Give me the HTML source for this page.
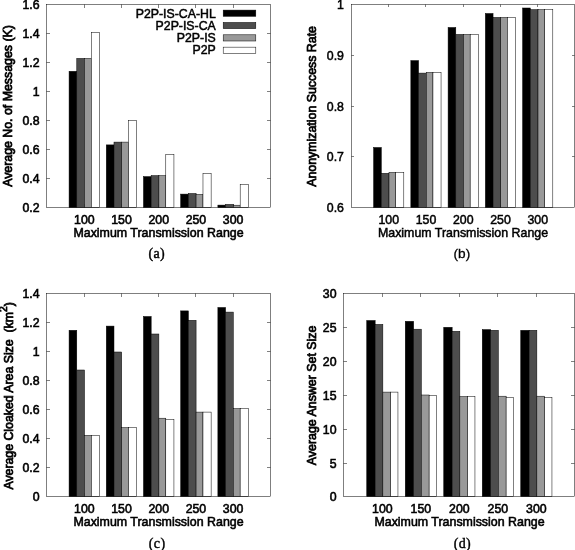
<!DOCTYPE html>
<html><head><meta charset="utf-8"><title>Figure</title>
<style>
html,body{margin:0;padding:0;background:#fff;}
svg{display:block;}
text{font-family:"Liberation Sans",sans-serif;fill:#000;stroke:#000;stroke-width:0.5px;}
</style></head><body>
<svg width="575" height="550" viewBox="0 0 575 550">
<rect width="575" height="550" fill="#fff"/>
<path d="M84.50 207.50v-3.5" stroke="#000" stroke-width="0.5" fill="none"/>
<path d="M121.50 207.50v-3.5" stroke="#000" stroke-width="0.5" fill="none"/>
<path d="M158.50 207.50v-3.5" stroke="#000" stroke-width="0.5" fill="none"/>
<path d="M195.50 207.50v-3.5" stroke="#000" stroke-width="0.5" fill="none"/>
<path d="M233.50 207.50v-3.5" stroke="#000" stroke-width="0.5" fill="none"/>
<rect x="69.08" y="71.30" width="7.70" height="136.20" fill="#000000" stroke="#000" stroke-width="0.5"/>
<rect x="76.78" y="58.40" width="7.70" height="149.10" fill="#4d4d4d" stroke="#000" stroke-width="0.5"/>
<rect x="84.48" y="58.40" width="6.90" height="149.10" fill="#999999" stroke="#000" stroke-width="0.5"/>
<rect x="91.38" y="32.30" width="8.15" height="175.20" fill="#ffffff" stroke="#000" stroke-width="0.5"/>
<rect x="106.28" y="144.90" width="7.70" height="62.60" fill="#000000" stroke="#000" stroke-width="0.5"/>
<rect x="113.98" y="142.10" width="7.70" height="65.40" fill="#4d4d4d" stroke="#000" stroke-width="0.5"/>
<rect x="121.68" y="142.10" width="6.90" height="65.40" fill="#999999" stroke="#000" stroke-width="0.5"/>
<rect x="128.58" y="120.40" width="8.15" height="87.10" fill="#ffffff" stroke="#000" stroke-width="0.5"/>
<rect x="143.47" y="176.60" width="7.70" height="30.90" fill="#000000" stroke="#000" stroke-width="0.5"/>
<rect x="151.17" y="175.60" width="7.70" height="31.90" fill="#4d4d4d" stroke="#000" stroke-width="0.5"/>
<rect x="158.88" y="175.60" width="6.90" height="31.90" fill="#999999" stroke="#000" stroke-width="0.5"/>
<rect x="165.78" y="154.30" width="8.15" height="53.20" fill="#ffffff" stroke="#000" stroke-width="0.5"/>
<rect x="180.68" y="194.10" width="7.70" height="13.40" fill="#000000" stroke="#000" stroke-width="0.5"/>
<rect x="188.38" y="193.50" width="7.70" height="14.00" fill="#4d4d4d" stroke="#000" stroke-width="0.5"/>
<rect x="196.08" y="194.40" width="6.90" height="13.10" fill="#999999" stroke="#000" stroke-width="0.5"/>
<rect x="202.98" y="173.40" width="8.15" height="34.10" fill="#ffffff" stroke="#000" stroke-width="0.5"/>
<rect x="217.88" y="205.10" width="7.70" height="2.40" fill="#000000" stroke="#000" stroke-width="0.5"/>
<rect x="225.58" y="204.40" width="7.70" height="3.10" fill="#4d4d4d" stroke="#000" stroke-width="0.5"/>
<rect x="233.28" y="205.20" width="6.90" height="2.30" fill="#999999" stroke="#000" stroke-width="0.5"/>
<rect x="240.18" y="184.50" width="8.15" height="23.00" fill="#ffffff" stroke="#000" stroke-width="0.5"/>
<rect x="46.50" y="4.50" width="224.00" height="203.00" fill="none" stroke="#000" stroke-width="0.5"/>
<path d="M84.50 4.50v3.5" stroke="#000" stroke-width="0.5" fill="none"/>
<text transform="translate(84.30,224.40) scale(0.955,1)" text-anchor="middle" font-size="12.9" style="stroke-width:0.6px">100</text>
<path d="M121.50 4.50v3.5" stroke="#000" stroke-width="0.5" fill="none"/>
<text transform="translate(121.50,224.40) scale(0.955,1)" text-anchor="middle" font-size="12.9" style="stroke-width:0.6px">150</text>
<path d="M158.50 4.50v3.5" stroke="#000" stroke-width="0.5" fill="none"/>
<text transform="translate(158.70,224.40) scale(0.955,1)" text-anchor="middle" font-size="12.9" style="stroke-width:0.6px">200</text>
<path d="M195.50 4.50v3.5" stroke="#000" stroke-width="0.5" fill="none"/>
<text transform="translate(195.90,224.40) scale(0.955,1)" text-anchor="middle" font-size="12.9" style="stroke-width:0.6px">250</text>
<path d="M233.50 4.50v3.5" stroke="#000" stroke-width="0.5" fill="none"/>
<text transform="translate(233.10,224.40) scale(0.955,1)" text-anchor="middle" font-size="12.9" style="stroke-width:0.6px">300</text>
<text transform="translate(39.50,211.90) scale(0.955,1)" text-anchor="end" font-size="12.9" style="stroke-width:0.6px">0.2</text>
<path d="M46.50 178.50h3.5M270.50 178.50h-3.5" stroke="#000" stroke-width="0.5" fill="none"/>
<text transform="translate(39.50,182.90) scale(0.955,1)" text-anchor="end" font-size="12.9" style="stroke-width:0.6px">0.4</text>
<path d="M46.50 149.50h3.5M270.50 149.50h-3.5" stroke="#000" stroke-width="0.5" fill="none"/>
<text transform="translate(39.50,153.90) scale(0.955,1)" text-anchor="end" font-size="12.9" style="stroke-width:0.6px">0.6</text>
<path d="M46.50 120.50h3.5M270.50 120.50h-3.5" stroke="#000" stroke-width="0.5" fill="none"/>
<text transform="translate(39.50,124.90) scale(0.955,1)" text-anchor="end" font-size="12.9" style="stroke-width:0.6px">0.8</text>
<path d="M46.50 91.50h3.5M270.50 91.50h-3.5" stroke="#000" stroke-width="0.5" fill="none"/>
<text transform="translate(39.50,95.90) scale(0.955,1)" text-anchor="end" font-size="12.9" style="stroke-width:0.6px">1</text>
<path d="M46.50 62.50h3.5M270.50 62.50h-3.5" stroke="#000" stroke-width="0.5" fill="none"/>
<text transform="translate(39.50,66.90) scale(0.955,1)" text-anchor="end" font-size="12.9" style="stroke-width:0.6px">1.2</text>
<path d="M46.50 33.50h3.5M270.50 33.50h-3.5" stroke="#000" stroke-width="0.5" fill="none"/>
<text transform="translate(39.50,37.90) scale(0.955,1)" text-anchor="end" font-size="12.9" style="stroke-width:0.6px">1.4</text>
<text transform="translate(39.50,8.90) scale(0.955,1)" text-anchor="end" font-size="12.9" style="stroke-width:0.6px">1.6</text>
<text transform="translate(158.50,236.90) scale(0.9466,1)" text-anchor="middle" font-size="13.1" style="stroke-width:0.6px">Maximum Transmission Range</text>
<text transform="translate(11.90,106.00) scale(1.06,1) rotate(-90)" text-anchor="middle" font-size="12.35" style="stroke-width:0.75px">Average No. of Messages (K)</text>
<text x="156.8" y="258" text-anchor="middle" font-family="'Liberation Serif', serif" style="font-family:'Liberation Serif',serif;stroke-width:0.4px" font-size="14" letter-spacing="0.4">(a)</text>
<text transform="translate(215.80,17.55) scale(0.955,1)" text-anchor="end" font-size="12.9" >P2P-IS-CA-HL</text>
<rect x="223.2" y="10.10" width="32.6" height="6.2" fill="#000000" stroke="#000" stroke-width="0.5"/>
<text transform="translate(215.80,29.82) scale(0.955,1)" text-anchor="end" font-size="12.9" >P2P-IS-CA</text>
<rect x="223.2" y="22.45" width="32.6" height="6.2" fill="#4d4d4d" stroke="#000" stroke-width="0.5"/>
<text transform="translate(215.80,42.09) scale(0.955,1)" text-anchor="end" font-size="12.9" >P2P-IS</text>
<rect x="223.2" y="34.80" width="32.6" height="6.2" fill="#999999" stroke="#000" stroke-width="0.5"/>
<text transform="translate(215.80,54.36) scale(0.955,1)" text-anchor="end" font-size="12.9" >P2P</text>
<rect x="223.2" y="47.15" width="32.6" height="6.2" fill="#ffffff" stroke="#000" stroke-width="0.5"/>
<path d="M388.50 207.50v-2.5" stroke="#000" stroke-width="0.5" fill="none"/>
<path d="M425.50 207.50v-2.5" stroke="#000" stroke-width="0.5" fill="none"/>
<path d="M463.50 207.50v-2.5" stroke="#000" stroke-width="0.5" fill="none"/>
<path d="M500.50 207.50v-2.5" stroke="#000" stroke-width="0.5" fill="none"/>
<path d="M537.50 207.50v-2.5" stroke="#000" stroke-width="0.5" fill="none"/>
<rect x="373.60" y="147.50" width="7.70" height="60.00" fill="#000000" stroke="#000" stroke-width="0.5"/>
<rect x="381.30" y="173.30" width="7.70" height="34.20" fill="#4d4d4d" stroke="#000" stroke-width="0.5"/>
<rect x="389.00" y="172.40" width="6.70" height="35.10" fill="#999999" stroke="#000" stroke-width="0.5"/>
<rect x="395.70" y="172.40" width="8.10" height="35.10" fill="#ffffff" stroke="#000" stroke-width="0.5"/>
<rect x="410.85" y="60.60" width="7.70" height="146.90" fill="#000000" stroke="#000" stroke-width="0.5"/>
<rect x="418.55" y="73.10" width="7.70" height="134.40" fill="#4d4d4d" stroke="#000" stroke-width="0.5"/>
<rect x="426.25" y="72.40" width="6.70" height="135.10" fill="#999999" stroke="#000" stroke-width="0.5"/>
<rect x="432.95" y="72.40" width="8.10" height="135.10" fill="#ffffff" stroke="#000" stroke-width="0.5"/>
<rect x="448.10" y="27.50" width="7.70" height="180.00" fill="#000000" stroke="#000" stroke-width="0.5"/>
<rect x="455.80" y="34.40" width="7.70" height="173.10" fill="#4d4d4d" stroke="#000" stroke-width="0.5"/>
<rect x="463.50" y="34.40" width="6.70" height="173.10" fill="#999999" stroke="#000" stroke-width="0.5"/>
<rect x="470.20" y="34.40" width="8.10" height="173.10" fill="#ffffff" stroke="#000" stroke-width="0.5"/>
<rect x="485.35" y="13.50" width="7.70" height="194.00" fill="#000000" stroke="#000" stroke-width="0.5"/>
<rect x="493.05" y="17.40" width="7.70" height="190.10" fill="#4d4d4d" stroke="#000" stroke-width="0.5"/>
<rect x="500.75" y="17.40" width="6.70" height="190.10" fill="#999999" stroke="#000" stroke-width="0.5"/>
<rect x="507.45" y="17.40" width="8.10" height="190.10" fill="#ffffff" stroke="#000" stroke-width="0.5"/>
<rect x="522.60" y="8.00" width="7.70" height="199.50" fill="#000000" stroke="#000" stroke-width="0.5"/>
<rect x="530.30" y="9.60" width="7.70" height="197.90" fill="#4d4d4d" stroke="#000" stroke-width="0.5"/>
<rect x="538.00" y="9.60" width="6.70" height="197.90" fill="#999999" stroke="#000" stroke-width="0.5"/>
<rect x="544.70" y="9.60" width="8.10" height="197.90" fill="#ffffff" stroke="#000" stroke-width="0.5"/>
<rect x="351.50" y="4.50" width="223.00" height="203.00" fill="none" stroke="#000" stroke-width="0.5"/>
<path d="M388.50 4.50v2.5" stroke="#000" stroke-width="0.5" fill="none"/>
<text transform="translate(388.70,224.40) scale(0.955,1)" text-anchor="middle" font-size="12.9" style="stroke-width:0.5px">100</text>
<path d="M425.50 4.50v2.5" stroke="#000" stroke-width="0.5" fill="none"/>
<text transform="translate(425.95,224.40) scale(0.955,1)" text-anchor="middle" font-size="12.9" style="stroke-width:0.5px">150</text>
<path d="M463.50 4.50v2.5" stroke="#000" stroke-width="0.5" fill="none"/>
<text transform="translate(463.20,224.40) scale(0.955,1)" text-anchor="middle" font-size="12.9" style="stroke-width:0.5px">200</text>
<path d="M500.50 4.50v2.5" stroke="#000" stroke-width="0.5" fill="none"/>
<text transform="translate(500.45,224.40) scale(0.955,1)" text-anchor="middle" font-size="12.9" style="stroke-width:0.5px">250</text>
<path d="M537.50 4.50v2.5" stroke="#000" stroke-width="0.5" fill="none"/>
<text transform="translate(537.70,224.40) scale(0.955,1)" text-anchor="middle" font-size="12.9" style="stroke-width:0.5px">300</text>
<text transform="translate(343.90,212.15) scale(0.955,1)" text-anchor="end" font-size="12.9" style="stroke-width:0.5px">0.6</text>
<path d="M351.50 156.50h2.5M574.50 156.50h-2.5" stroke="#000" stroke-width="0.5" fill="none"/>
<text transform="translate(343.90,161.15) scale(0.955,1)" text-anchor="end" font-size="12.9" style="stroke-width:0.5px">0.7</text>
<path d="M351.50 106.50h2.5M574.50 106.50h-2.5" stroke="#000" stroke-width="0.5" fill="none"/>
<text transform="translate(343.90,110.95) scale(0.955,1)" text-anchor="end" font-size="12.9" style="stroke-width:0.5px">0.8</text>
<path d="M351.50 55.50h2.5M574.50 55.50h-2.5" stroke="#000" stroke-width="0.5" fill="none"/>
<text transform="translate(343.90,60.05) scale(0.955,1)" text-anchor="end" font-size="12.9" style="stroke-width:0.5px">0.9</text>
<text transform="translate(343.90,9.15) scale(0.955,1)" text-anchor="end" font-size="12.9" style="stroke-width:0.5px">1</text>
<text transform="translate(463.00,236.90) scale(0.9466,1)" text-anchor="middle" font-size="13.1" style="stroke-width:0.5px">Maximum Transmission Range</text>
<text transform="translate(316.40,106.40) scale(1.0,1) rotate(-90)" text-anchor="middle" font-size="12.37" style="stroke-width:0.75px">Anonymization Success Rate</text>
<text x="461.9" y="257.7" text-anchor="middle" style="stroke-width:0.3px" font-size="13.6">(b)</text>
<path d="M84.50 496.50v-3.5" stroke="#000" stroke-width="0.5" fill="none"/>
<path d="M121.50 496.50v-3.5" stroke="#000" stroke-width="0.5" fill="none"/>
<path d="M158.50 496.50v-3.5" stroke="#000" stroke-width="0.5" fill="none"/>
<path d="M195.50 496.50v-3.5" stroke="#000" stroke-width="0.5" fill="none"/>
<path d="M233.50 496.50v-3.5" stroke="#000" stroke-width="0.5" fill="none"/>
<rect x="69.08" y="330.30" width="7.70" height="166.20" fill="#000000" stroke="#000" stroke-width="0.5"/>
<rect x="76.78" y="370.00" width="7.70" height="126.50" fill="#4d4d4d" stroke="#000" stroke-width="0.5"/>
<rect x="84.48" y="435.30" width="6.90" height="61.20" fill="#999999" stroke="#000" stroke-width="0.5"/>
<rect x="91.38" y="435.30" width="8.15" height="61.20" fill="#ffffff" stroke="#000" stroke-width="0.5"/>
<rect x="106.28" y="326.10" width="7.70" height="170.40" fill="#000000" stroke="#000" stroke-width="0.5"/>
<rect x="113.98" y="352.00" width="7.70" height="144.50" fill="#4d4d4d" stroke="#000" stroke-width="0.5"/>
<rect x="121.68" y="427.60" width="6.90" height="68.90" fill="#999999" stroke="#000" stroke-width="0.5"/>
<rect x="128.58" y="427.60" width="8.15" height="68.90" fill="#ffffff" stroke="#000" stroke-width="0.5"/>
<rect x="143.47" y="316.50" width="7.70" height="180.00" fill="#000000" stroke="#000" stroke-width="0.5"/>
<rect x="151.17" y="334.00" width="7.70" height="162.50" fill="#4d4d4d" stroke="#000" stroke-width="0.5"/>
<rect x="158.88" y="418.20" width="6.90" height="78.30" fill="#999999" stroke="#000" stroke-width="0.5"/>
<rect x="165.78" y="419.40" width="8.15" height="77.10" fill="#ffffff" stroke="#000" stroke-width="0.5"/>
<rect x="180.68" y="310.90" width="7.70" height="185.60" fill="#000000" stroke="#000" stroke-width="0.5"/>
<rect x="188.38" y="320.30" width="7.70" height="176.20" fill="#4d4d4d" stroke="#000" stroke-width="0.5"/>
<rect x="196.08" y="412.10" width="6.90" height="84.40" fill="#999999" stroke="#000" stroke-width="0.5"/>
<rect x="202.98" y="412.10" width="8.15" height="84.40" fill="#ffffff" stroke="#000" stroke-width="0.5"/>
<rect x="217.88" y="307.50" width="7.70" height="189.00" fill="#000000" stroke="#000" stroke-width="0.5"/>
<rect x="225.58" y="312.10" width="7.70" height="184.40" fill="#4d4d4d" stroke="#000" stroke-width="0.5"/>
<rect x="233.28" y="408.60" width="6.90" height="87.90" fill="#999999" stroke="#000" stroke-width="0.5"/>
<rect x="240.18" y="408.60" width="8.15" height="87.90" fill="#ffffff" stroke="#000" stroke-width="0.5"/>
<rect x="46.50" y="293.50" width="224.00" height="203.00" fill="none" stroke="#000" stroke-width="0.5"/>
<path d="M84.50 293.50v3.5" stroke="#000" stroke-width="0.5" fill="none"/>
<text transform="translate(84.30,513.10) scale(0.955,1)" text-anchor="middle" font-size="12.9" style="stroke-width:0.6px">100</text>
<path d="M121.50 293.50v3.5" stroke="#000" stroke-width="0.5" fill="none"/>
<text transform="translate(121.50,513.10) scale(0.955,1)" text-anchor="middle" font-size="12.9" style="stroke-width:0.6px">150</text>
<path d="M158.50 293.50v3.5" stroke="#000" stroke-width="0.5" fill="none"/>
<text transform="translate(158.70,513.10) scale(0.955,1)" text-anchor="middle" font-size="12.9" style="stroke-width:0.6px">200</text>
<path d="M195.50 293.50v3.5" stroke="#000" stroke-width="0.5" fill="none"/>
<text transform="translate(195.90,513.10) scale(0.955,1)" text-anchor="middle" font-size="12.9" style="stroke-width:0.6px">250</text>
<path d="M233.50 293.50v3.5" stroke="#000" stroke-width="0.5" fill="none"/>
<text transform="translate(233.10,513.10) scale(0.955,1)" text-anchor="middle" font-size="12.9" style="stroke-width:0.6px">300</text>
<text transform="translate(39.50,500.90) scale(0.955,1)" text-anchor="end" font-size="12.9" style="stroke-width:0.6px">0</text>
<path d="M46.50 467.50h3.5M270.50 467.50h-3.5" stroke="#000" stroke-width="0.5" fill="none"/>
<text transform="translate(39.50,471.90) scale(0.955,1)" text-anchor="end" font-size="12.9" style="stroke-width:0.6px">0.2</text>
<path d="M46.50 438.50h3.5M270.50 438.50h-3.5" stroke="#000" stroke-width="0.5" fill="none"/>
<text transform="translate(39.50,442.90) scale(0.955,1)" text-anchor="end" font-size="12.9" style="stroke-width:0.6px">0.4</text>
<path d="M46.50 409.50h3.5M270.50 409.50h-3.5" stroke="#000" stroke-width="0.5" fill="none"/>
<text transform="translate(39.50,413.90) scale(0.955,1)" text-anchor="end" font-size="12.9" style="stroke-width:0.6px">0.6</text>
<path d="M46.50 380.50h3.5M270.50 380.50h-3.5" stroke="#000" stroke-width="0.5" fill="none"/>
<text transform="translate(39.50,384.90) scale(0.955,1)" text-anchor="end" font-size="12.9" style="stroke-width:0.6px">0.8</text>
<path d="M46.50 351.50h3.5M270.50 351.50h-3.5" stroke="#000" stroke-width="0.5" fill="none"/>
<text transform="translate(39.50,355.90) scale(0.955,1)" text-anchor="end" font-size="12.9" style="stroke-width:0.6px">1</text>
<path d="M46.50 322.50h3.5M270.50 322.50h-3.5" stroke="#000" stroke-width="0.5" fill="none"/>
<text transform="translate(39.50,326.90) scale(0.955,1)" text-anchor="end" font-size="12.9" style="stroke-width:0.6px">1.2</text>
<text transform="translate(39.50,297.90) scale(0.955,1)" text-anchor="end" font-size="12.9" style="stroke-width:0.6px">1.4</text>
<text transform="translate(158.50,525.70) scale(0.9466,1)" text-anchor="middle" font-size="13.1" style="stroke-width:0.6px">Maximum Transmission Range</text>
<text transform="translate(13.20,395.90) scale(1.0,1) rotate(-90)" text-anchor="middle" font-size="12.3" style="stroke-width:0.75px">Average Cloaked Area Size&#160;&#160;(km<tspan font-size="10.3" dy="-5.8">2</tspan><tspan dy="5.8">)</tspan></text>
<text x="157.2" y="547.5" text-anchor="middle" font-family="'Liberation Serif', serif" style="font-family:'Liberation Serif',serif;stroke-width:0.4px" font-size="14" letter-spacing="0.4">(c)</text>
<path d="M382.50 496.50v-3.5" stroke="#000" stroke-width="0.5" fill="none"/>
<path d="M420.50 496.50v-3.5" stroke="#000" stroke-width="0.5" fill="none"/>
<path d="M459.50 496.50v-3.5" stroke="#000" stroke-width="0.5" fill="none"/>
<path d="M497.50 496.50v-3.5" stroke="#000" stroke-width="0.5" fill="none"/>
<path d="M536.50 496.50v-3.5" stroke="#000" stroke-width="0.5" fill="none"/>
<rect x="366.75" y="320.50" width="8.40" height="176.00" fill="#000000" stroke="#000" stroke-width="0.5"/>
<rect x="375.15" y="324.40" width="7.70" height="172.10" fill="#4d4d4d" stroke="#000" stroke-width="0.5"/>
<rect x="382.85" y="392.10" width="7.80" height="104.40" fill="#999999" stroke="#000" stroke-width="0.5"/>
<rect x="390.65" y="392.10" width="7.30" height="104.40" fill="#ffffff" stroke="#000" stroke-width="0.5"/>
<rect x="405.25" y="321.30" width="8.40" height="175.20" fill="#000000" stroke="#000" stroke-width="0.5"/>
<rect x="413.65" y="329.20" width="7.70" height="167.30" fill="#4d4d4d" stroke="#000" stroke-width="0.5"/>
<rect x="421.35" y="395.00" width="7.80" height="101.50" fill="#999999" stroke="#000" stroke-width="0.5"/>
<rect x="429.15" y="395.40" width="7.30" height="101.10" fill="#ffffff" stroke="#000" stroke-width="0.5"/>
<rect x="443.75" y="327.30" width="8.40" height="169.20" fill="#000000" stroke="#000" stroke-width="0.5"/>
<rect x="452.15" y="331.30" width="7.70" height="165.20" fill="#4d4d4d" stroke="#000" stroke-width="0.5"/>
<rect x="459.85" y="396.50" width="7.80" height="100.00" fill="#999999" stroke="#000" stroke-width="0.5"/>
<rect x="467.65" y="396.50" width="7.30" height="100.00" fill="#ffffff" stroke="#000" stroke-width="0.5"/>
<rect x="482.25" y="329.60" width="8.40" height="166.90" fill="#000000" stroke="#000" stroke-width="0.5"/>
<rect x="490.65" y="330.30" width="7.70" height="166.20" fill="#4d4d4d" stroke="#000" stroke-width="0.5"/>
<rect x="498.35" y="396.20" width="7.80" height="100.30" fill="#999999" stroke="#000" stroke-width="0.5"/>
<rect x="506.15" y="397.30" width="7.30" height="99.20" fill="#ffffff" stroke="#000" stroke-width="0.5"/>
<rect x="520.75" y="330.30" width="8.40" height="166.20" fill="#000000" stroke="#000" stroke-width="0.5"/>
<rect x="529.15" y="330.30" width="7.70" height="166.20" fill="#4d4d4d" stroke="#000" stroke-width="0.5"/>
<rect x="536.85" y="396.20" width="7.80" height="100.30" fill="#999999" stroke="#000" stroke-width="0.5"/>
<rect x="544.65" y="397.30" width="7.30" height="99.20" fill="#ffffff" stroke="#000" stroke-width="0.5"/>
<rect x="343.50" y="293.50" width="231.00" height="203.00" fill="none" stroke="#000" stroke-width="0.5"/>
<path d="M382.50 293.50v3.5" stroke="#000" stroke-width="0.5" fill="none"/>
<text transform="translate(382.35,513.10) scale(0.955,1)" text-anchor="middle" font-size="12.9" style="stroke-width:0.6px">100</text>
<path d="M420.50 293.50v3.5" stroke="#000" stroke-width="0.5" fill="none"/>
<text transform="translate(420.85,513.10) scale(0.955,1)" text-anchor="middle" font-size="12.9" style="stroke-width:0.6px">150</text>
<path d="M459.50 293.50v3.5" stroke="#000" stroke-width="0.5" fill="none"/>
<text transform="translate(459.35,513.10) scale(0.955,1)" text-anchor="middle" font-size="12.9" style="stroke-width:0.6px">200</text>
<path d="M497.50 293.50v3.5" stroke="#000" stroke-width="0.5" fill="none"/>
<text transform="translate(497.85,513.10) scale(0.955,1)" text-anchor="middle" font-size="12.9" style="stroke-width:0.6px">250</text>
<path d="M536.50 293.50v3.5" stroke="#000" stroke-width="0.5" fill="none"/>
<text transform="translate(536.35,513.10) scale(0.955,1)" text-anchor="middle" font-size="12.9" style="stroke-width:0.6px">300</text>
<text transform="translate(336.50,500.60) scale(0.955,1)" text-anchor="end" font-size="12.9" style="stroke-width:0.6px">0</text>
<path d="M343.50 463.50h3.5M574.50 463.50h-3.5" stroke="#000" stroke-width="0.5" fill="none"/>
<text transform="translate(336.50,467.50) scale(0.955,1)" text-anchor="end" font-size="12.9" style="stroke-width:0.6px">5</text>
<path d="M343.50 429.50h3.5M574.50 429.50h-3.5" stroke="#000" stroke-width="0.5" fill="none"/>
<text transform="translate(336.50,433.50) scale(0.955,1)" text-anchor="end" font-size="12.9" style="stroke-width:0.6px">10</text>
<path d="M343.50 395.50h3.5M574.50 395.50h-3.5" stroke="#000" stroke-width="0.5" fill="none"/>
<text transform="translate(336.50,399.50) scale(0.955,1)" text-anchor="end" font-size="12.9" style="stroke-width:0.6px">15</text>
<path d="M343.50 361.50h3.5M574.50 361.50h-3.5" stroke="#000" stroke-width="0.5" fill="none"/>
<text transform="translate(336.50,365.50) scale(0.955,1)" text-anchor="end" font-size="12.9" style="stroke-width:0.6px">20</text>
<path d="M343.50 327.50h3.5M574.50 327.50h-3.5" stroke="#000" stroke-width="0.5" fill="none"/>
<text transform="translate(336.50,331.50) scale(0.955,1)" text-anchor="end" font-size="12.9" style="stroke-width:0.6px">25</text>
<text transform="translate(336.50,297.60) scale(0.955,1)" text-anchor="end" font-size="12.9" style="stroke-width:0.6px">30</text>
<text transform="translate(459.50,525.70) scale(0.9466,1)" text-anchor="middle" font-size="13.1" style="stroke-width:0.6px">Maximum Transmission Range</text>
<text transform="translate(316.40,395.40) scale(1.0,1) rotate(-90)" text-anchor="middle" font-size="12.4" style="stroke-width:0.75px">Average Answer Set Size</text>
<text x="462.4" y="547.5" text-anchor="middle" font-family="'Liberation Serif', serif" style="font-family:'Liberation Serif',serif;stroke-width:0.4px" font-size="14" letter-spacing="0.4">(d)</text>
</svg>
</body></html>
